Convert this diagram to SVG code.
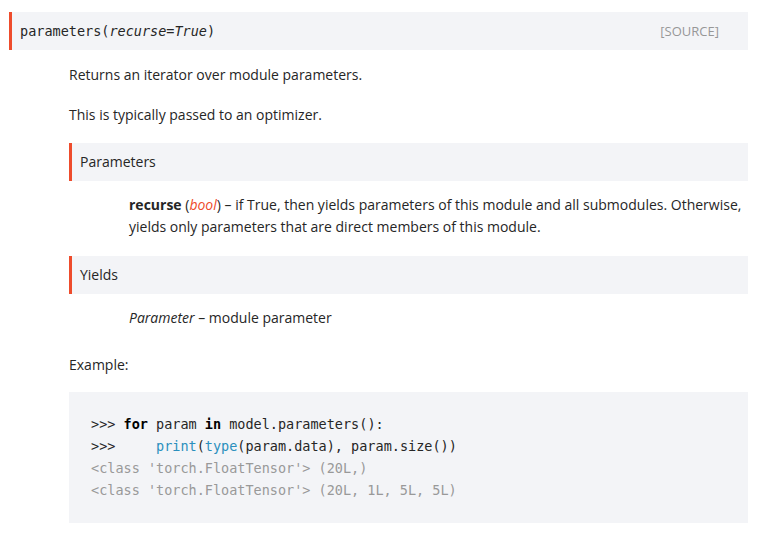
<svg xmlns="http://www.w3.org/2000/svg" width="761" height="534" viewBox="0 0 761 534">
<style>
.t{font-family:"Open Sans","Noto Sans",sans-serif;font-size:14px;fill:#262626}
.m{font-family:"DejaVu Sans Mono",monospace;font-size:13.5px;fill:#262626}
.g{fill:#f3f4f7}
.r{fill:#ee4c2c}
.c{fill:#999}
</style>
<rect width="761" height="534" fill="#fff"/>
<rect class="g" x="10" y="12" width="738" height="38"/>
<rect class="r" x="9" y="12" width="3" height="38"/>
<text class="m" x="20" y="36" font-size="14">parameters(<tspan font-style="italic">recurse</tspan>=<tspan font-style="italic">True</tspan>)</text>
<text x="719" y="36" text-anchor="end" style="font-family:'Open Sans',sans-serif;font-size:13px;fill:#979797">[SOURCE]</text>
<text class="t" x="69" y="80">Returns an iterator over module parameters.</text>
<text class="t" x="69" y="120">This is typically passed to an optimizer.</text>
<rect class="g" x="69" y="143" width="679" height="38"/>
<rect class="r" x="69" y="143" width="3" height="38"/>
<text class="t" x="80" y="167">Parameters</text>
<text class="t" x="129" y="210"><tspan font-weight="bold">recurse</tspan> (<tspan font-style="italic" fill="#ee4c2c">bool</tspan>) – if True, then yields parameters of this module and all submodules. Otherwise,</text>
<text class="t" x="129" y="232">yields only parameters that are direct members of this module.</text>
<rect class="g" x="69" y="256" width="679" height="38"/>
<rect class="r" x="69" y="256" width="3" height="38"/>
<text class="t" x="80" y="280">Yields</text>
<text class="t" x="129" y="323"><tspan font-style="italic">Parameter</tspan> – module parameter</text>
<text class="t" x="69" y="370">Example:</text>
<rect class="g" x="69" y="392" width="679" height="131"/>
<text class="m" x="91" y="429">&gt;&gt;&gt; <tspan font-weight="bold" fill="#000">for</tspan> param <tspan font-weight="bold" fill="#000">in</tspan> model.parameters():</text>
<text class="m" x="91" y="451" xml:space="preserve">&gt;&gt;&gt;     <tspan fill="#2a8fbd">print</tspan>(<tspan fill="#2a8fbd">type</tspan>(param.data), param.size())</text>
<text class="m c" x="91" y="473">&lt;class 'torch.FloatTensor'&gt; (20L,)</text>
<text class="m c" x="91" y="495">&lt;class 'torch.FloatTensor'&gt; (20L, 1L, 5L, 5L)</text>
</svg>
